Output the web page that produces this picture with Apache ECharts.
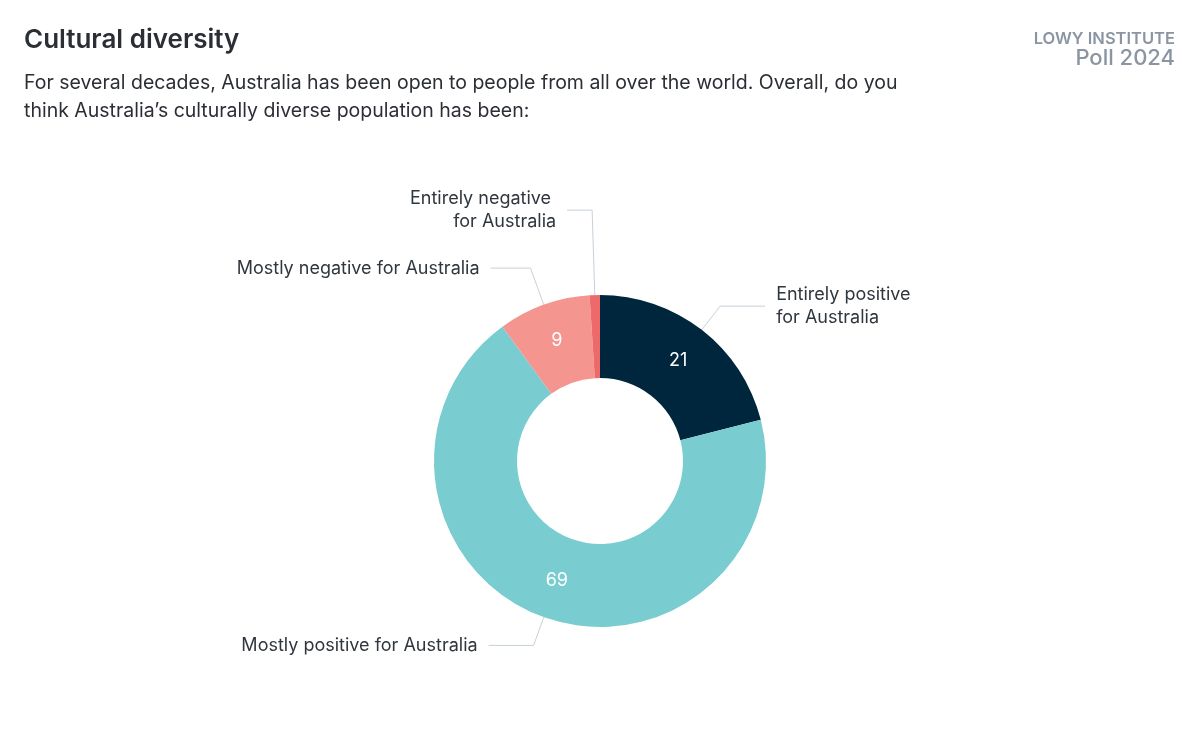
<!DOCTYPE html>
<html lang="en">

<head>
    <meta charset="UTF-8">
    <title>Cultural diversity</title>
    <script src="https://cdn.jsdelivr.net/npm/echarts@6/dist/echarts.min.js"></script>
    <style>
        html, body {
            margin: 0;
            padding: 0;
            background: #fff;
        }
        .box {
            width: 1200px;
            height: 738px;
        }
    </style>
</head>

<body>
    <div class="box"></div>

    <script>
        // data
        var categories = ['Entirely positive for Australia', 'Mostly positive for Australia', 'Mostly negative for Australia', 'Entirely negative for Australia'];
        var values = [21, 69, 9, 1];
        var colors = ['#00263e', '#79cdd0', '#f4968f', '#ee6a6a'];
        // per-slice label line lengths
        var lineLen = [30, 30, 39, 85];
        var lineLen2 = [45, 45, 40, 25];

        var textColor = '#30363d';
        var font = 'Inter, "Noto Sans", sans-serif';

        var myChart = echarts.init(document.querySelector('.box'));

        var sliceData = categories.map(function (name, i) {
            return {
                name: name,
                value: values[i],
                itemStyle: { color: colors[i] },
                label: { show: values[i] > 2 }
            };
        });

        var outerData = categories.map(function (name, i) {
            var twoLine = i === 0 || i === 3;
            return {
                name: name,
                value: values[i],
                label: twoLine ? { width: 160, overflow: 'break' } : {},
                labelLine: { length: lineLen[i], length2: lineLen2[i] }
            };
        });

        var option = {
            animation: false,
            title: {
                text: 'Cultural diversity',
                subtext: 'For several decades, Australia has been open to people from all over the world. Overall, do you\nthink Australia\u2019s culturally diverse population has been:',
                left: 19,
                top: 22,
                itemGap: 16,
                textStyle: {
                    fontFamily: font,
                    fontSize: 26,
                    fontWeight: 600,
                    color: '#2b2f35'
                },
                subtextStyle: {
                    fontFamily: font,
                    fontSize: 19.5,
                    lineHeight: 28,
                    color: '#2b2f35'
                }
            },
            graphic: [{
                type: 'text',
                right: 25,
                top: 31,
                style: {
                    text: 'LOWY INSTITUTE',
                    fontFamily: font,
                    fontSize: 16.5,
                    fontWeight: 600,
                    fill: '#8a95a1'
                }
            }, {
                type: 'text',
                right: 25,
                top: 47,
                style: {
                    text: 'Poll 2024',
                    fontFamily: font,
                    fontSize: 22,
                    fontWeight: 500,
                    fill: '#8a95a1'
                }
            }],
            series: [{
                // slices + values inside
                type: 'pie',
                center: [600, 461],
                radius: [83, 166],
                startAngle: 90,
                clockwise: true,
                silent: true,
                label: {
                    position: 'inside',
                    formatter: '{c}',
                    color: '#fff',
                    fontFamily: font,
                    fontSize: 18
                },
                labelLine: { show: false },
                data: sliceData
            }, {
                // outer category labels
                type: 'pie',
                center: [600, 461],
                radius: [83, 166],
                startAngle: 90,
                clockwise: true,
                silent: true,
                avoidLabelOverlap: false,
                itemStyle: { color: 'rgba(0,0,0,0)' },
                label: {
                    formatter: '{b}',
                    color: textColor,
                    fontFamily: font,
                    fontSize: 18,
                    lineHeight: 23,
                    distanceToLabelLine: 11
                },
                labelLine: {
                    lineStyle: { color: '#c6d1d9', width: 1 }
                },
                data: outerData
            }]
        };

        myChart.setOption(option);
    </script>
</body>

</html>
